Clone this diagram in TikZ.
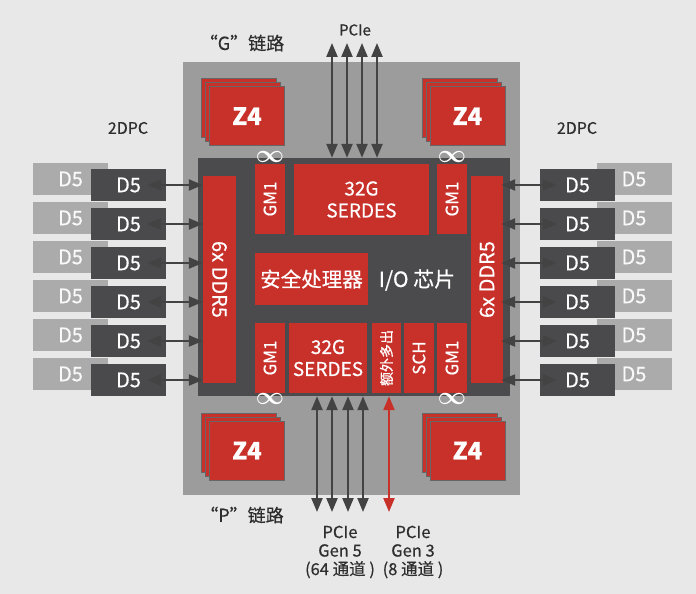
\documentclass[tikz,border=0pt]{standalone}
\usepackage{fontspec}
\usepackage{graphicx}
\setmainfont{Noto Sans CJK SC}[FakeBold=0.5]
\usetikzlibrary{arrows.meta,shadows}

\definecolor{amdred}{HTML}{C8302A}
\definecolor{pagebg}{HTML}{E8E8E8}
\definecolor{pkggray}{HTML}{9C9C9C}
\definecolor{diegray}{HTML}{4B4B4D}
\definecolor{dimmdark}{HTML}{4A4A4C}
\definecolor{dimmlight}{HTML}{ABABAB}
\definecolor{ink}{HTML}{2E2E2E}

\newcommand{\fs}[1]{\fontsize{#1}{#1}\selectfont}

\begin{document}
\begin{tikzpicture}[x=1pt, y=-1pt,
  blk/.style={fill=amdred, text=white, inner sep=0pt},
  gmi/.style={blk, minimum width=30pt, minimum height=70pt, font=\fs{17}},
  ddr/.style={blk, minimum width=33pt, minimum height=207pt, font=\fs{20}},
  zfour/.style={blk, draw=gray!80!black, line width=0.6pt, minimum width=75pt, minimum height=59pt,
    font=\bfseries\fs{24},
    double copy shadow={shadow xshift=-4pt, shadow yshift=4pt, fill=amdred, draw=gray!80!black}},
  dimmd/.style={fill=dimmdark, text=white, inner sep=0pt, minimum width=75pt, minimum height=32pt, font=\fs{20}},
  dimml/.style={fill=dimmlight, text=white!95!gray, inner sep=0pt, minimum width=75pt, minimum height=32pt, font=\fs{20}},
  lbl/.style={text=ink, inner sep=0pt},
  inf/.style={text=white, inner sep=0pt, font=\boldmath\fs{26}},
  link/.style={line width=2.3pt, draw=ink!90, {Triangle[length=14pt,width=11pt]}-{Triangle[length=14pt,width=11pt]}}]

  % page and package
  \fill[pagebg] (0,0) rectangle (696,594);
  \useasboundingbox (0,0) rectangle (696,594);
  \node[fill=pkggray, inner sep=0pt, minimum width=337pt, minimum height=433pt] (pkg) at (351.5,278.5) {};
  \node[fill=diegray, inner sep=0pt, minimum width=312pt, minimum height=238pt] (iod) at (354,277) {};

  % blocks of the I/O die
  \node[ddr] (ddrl) at (219.5,279.5) {\rotatebox{-90}{6x DDR5}};
  \node[ddr, minimum width=32pt] (ddrr) at (487,279.5) {\rotatebox{90}{6x DDR5}};
  \node[gmi] (gtl) at (270,199) {\rotatebox{90}{GM1}};
  \node[gmi] (gtr) at (452,199) {\rotatebox{90}{GM1}};
  \node[gmi] (gbl) at (270,358) {\rotatebox{90}{GM1}};
  \node[gmi] (gbr) at (452,358) {\rotatebox{90}{GM1}};
  \node[blk, minimum width=135pt, minimum height=71pt, align=center, font=\fs{19}] (sdtop) at (361.5,199.5)
    {32G\\[3pt]SERDES};
  \node[blk, minimum width=78pt, minimum height=70pt, align=center, font=\fs{19}] (sdbot) at (328,358)
    {32G\\[3pt]SERDES};
  \node[blk, minimum width=29pt, minimum height=70pt, font=\fs{14}] (extra) at (386.5,358) {\rotatebox{90}{额外多出}};
  \node[blk, minimum width=30pt, minimum height=70pt, font=\fs{17}] (sch) at (419,358) {\rotatebox{90}{SCH}};
  \node[blk, minimum width=113pt, minimum height=52pt, font=\fs{20.5}] (psp) at (311.5,279) {安全处理器};
  \node[text=white, inner sep=0pt, font=\fs{21}] (iotxt) at (417,280) {I/O 芯片};

  % Z4 chiplets
  \node[zfour] (ztl) at (247,116) {Z4};
  \node[zfour] (ztr) at (467.5,116) {Z4};
  \node[zfour] (zbl) at (247,450.5) {Z4};
  \node[zfour] (zbr) at (467.5,450.5) {Z4};

  % infinity fabric marks
  \node[inf] (itl) at (270,157) {$\infty$};
  \node[inf] (itr) at (452,157) {$\infty$};
  \node[inf] (ibl) at (270,399) {$\infty$};
  \node[inf] (ibr) at (452,399) {$\infty$};

  % memory channels
  \foreach \i/\y in {1/185,2/224,3/263,4/302,5/341,6/380} {
    \node[dimml] (ll\i) at (70.5,\y-6) {D5};
    \node[dimmd] (dl\i) at (128.5,\y) {D5};
    \node[dimml] (lr\i) at (634,\y-6) {D5};
    \node[dimmd] (dr\i) at (577.5,\y) {D5};
    \draw[link, shorten <=-19pt] (dl\i.east) -- (ddrl.west |- dl\i.east);
    \draw[link, shorten <=-2pt, shorten >=-17pt] (ddrr.east |- dr\i.west) -- (dr\i.west);
  }
  \node[lbl, font=\fs{16}] (dpcl) at (128,128) {2DPC};
  \node[lbl, font=\fs{16}] (dpcr) at (577,128) {2DPC};

  % PCIe links
  \foreach \i/\x in {1/332,2/347,3/362,4/377} {
    \coordinate (tp\i) at (\x,43);
    \draw[link] (tp\i) -- (tp\i |- iod.north);
  }
  \foreach \i/\x in {1/317,2/332,3/348,4/363} {
    \coordinate (bp\i) at (\x,512);
    \draw[link] (bp\i |- iod.south) -- (bp\i);
  }
  \coordinate (g3) at (389,512);
  \draw[link, draw=amdred] (g3 |- iod.south) -- (g3);

  % labels
  \node[lbl, font=\fs{15}] (pcietop) at (355,30) {PCIe};
  \node[lbl, font=\fs{18}] (glink) at (242,43) {“G”链路};
  \node[lbl, font=\fs{18}] (plink) at (242,515) {“P”链路};
  \node[lbl, align=center, font=\fs{16.5}] (gen5) at (340,552)
    {PCIe\\[2pt]Gen 5\\[2pt](64 通道 )};
  \node[lbl, align=center, font=\fs{16.5}] (gen3) at (413,552)
    {PCIe\\[2pt]Gen 3\\[2pt](8 通道 )};
\end{tikzpicture}
\end{document}
